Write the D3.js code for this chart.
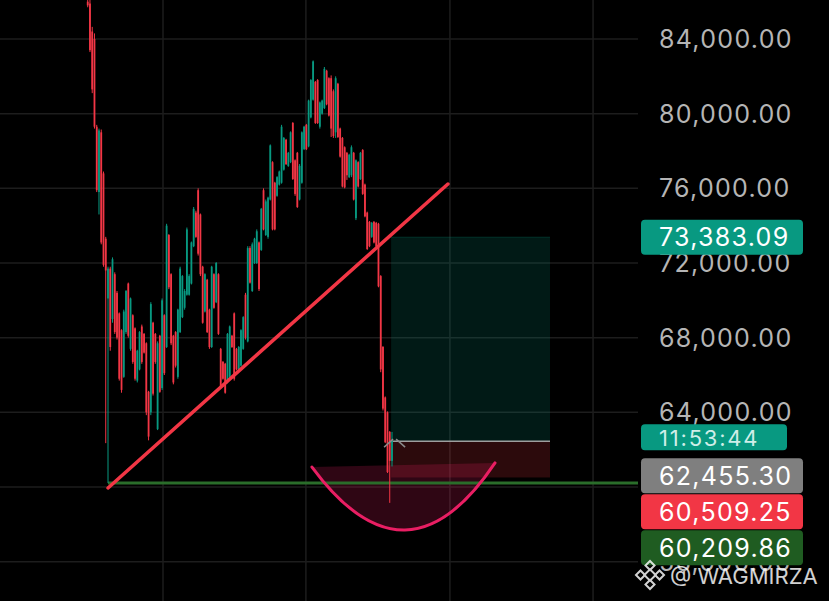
<!DOCTYPE html>
<html>
<head>
<meta charset="utf-8">
<script src="https://cdn.jsdelivr.net/npm/d3@7"></script>
<style>
  html, body { margin: 0; padding: 0; background: #000; overflow: hidden; }
  svg { display: block; }
</style>
</head>
<body>
<div id="chart"></div>
<script>
// --- Data ---
// candles as [open, high, low, close], one per bar, oldest first
const candles = [
  [86000, 86300, 85700, 85800], [85900, 86200, 83300, 83400], [84400, 84650, 81100, 81300],
  [84000, 84300, 79200, 79300], [79300, 79400, 75800, 75900], [75800, 79200, 74600, 79100],
  [79000, 79150, 73000, 73100], [76800, 76900, 71800, 71900], [73300, 73400, 62350, 71600],
  [70100, 71800, 60210, 71700], [71700, 71800, 67300, 67500], [69000, 72300, 68800, 72200],
  [71400, 71500, 68200, 68300], [70400, 70500, 67900, 68000], [69300, 69350, 65700, 65800],
  [68400, 68450, 65050, 65200], [65900, 69500, 65850, 69400], [68300, 70550, 68200, 70500],
  [70900, 70950, 68000, 68100], [67400, 70150, 67300, 70100], [69200, 69250, 66600, 66700],
  [68500, 68550, 65700, 65800], [65700, 67350, 65600, 67300], [66300, 68350, 66250, 68300],
  [68600, 68700, 66600, 66700], [68200, 68250, 67150, 67200], [67700, 67750, 63850, 64000],
  [65100, 65150, 62500, 62700], [64000, 69900, 63850, 69800], [68800, 68850, 64900, 65000],
  [68200, 68250, 66600, 66700], [63100, 67800, 63050, 67700], [68100, 68150, 65050, 65100],
  [65300, 70100, 65200, 70000], [69200, 69250, 66000, 66100], [67500, 74100, 67450, 74000],
  [73500, 73550, 70600, 70700], [71400, 71450, 67600, 67700], [68100, 68150, 65500, 65600],
  [68300, 68350, 66400, 66500], [65900, 69550, 65800, 69500], [68300, 71800, 68250, 71700],
  [69100, 71350, 69050, 71300], [69600, 70600, 69500, 70500], [70300, 73900, 70250, 73800],
  [70300, 71400, 70250, 71300], [70900, 73150, 70850, 73100], [72900, 75000, 72850, 74900],
  [74700, 74800, 73350, 73400], [75900, 76000, 72400, 72500], [74600, 74650, 71300, 71400],
  [71800, 71850, 68750, 68800], [69400, 71450, 69350, 71400], [71100, 71150, 68250, 68300],
  [69500, 69550, 67400, 67500], [67500, 71850, 67450, 71800], [71400, 71450, 69550, 69600],
  [69900, 72050, 69850, 72000], [71400, 71450, 68150, 68200], [67400, 67450, 65350, 65400],
  [66700, 66750, 65750, 65800], [66600, 66650, 65000, 65050], [65600, 68250, 65550, 68200],
  [65900, 68650, 65850, 68600], [68100, 68150, 67450, 67500], [69300, 69350, 65700, 65800],
  [67400, 67450, 66250, 66300], [66300, 67550, 66250, 67500], [66500, 68450, 66450, 68400],
  [67400, 69150, 67350, 69100], [70300, 70400, 67900, 68000], [67800, 72900, 67750, 72800],
  [72800, 72900, 70900, 70950], [70500, 73100, 70450, 73000], [72000, 73350, 71950, 73300],
  [72000, 73800, 71950, 73700], [73100, 73150, 70500, 70600], [72700, 74950, 72650, 74900],
  [75900, 76000, 73750, 73800], [73500, 75400, 73450, 75300], [73400, 75550, 73300, 75500],
  [75400, 78350, 75350, 78300], [77400, 77450, 73750, 73800], [76300, 76350, 73750, 73800],
  [75600, 76650, 75550, 76600], [76200, 76950, 76150, 76900], [76300, 79400, 76250, 79300],
  [77000, 78750, 76950, 78700], [78600, 78650, 77250, 77300], [77200, 77950, 77150, 77900],
  [77400, 79050, 77350, 79000], [79500, 79550, 76450, 76500], [77500, 77550, 75600, 75700],
  [77900, 77950, 74950, 75000], [75400, 77300, 75350, 77200], [76300, 79050, 76250, 79000],
  [78100, 79350, 78050, 79300], [79400, 79450, 78050, 78100], [78250, 80750, 78200, 80700],
  [79800, 81850, 79750, 81800], [80750, 82850, 80700, 82800], [81700, 81750, 79450, 79500],
  [81800, 81850, 79450, 79500], [79300, 80650, 79200, 80600], [80000, 80750, 79950, 80700],
  [80300, 82500, 80250, 82400], [82300, 82350, 80450, 80500], [81900, 81950, 79850, 79900],
  [81900, 82050, 78750, 79200], [81200, 81300, 78700, 78800], [79000, 82000, 78700, 81900],
  [81600, 81650, 78700, 78750], [79200, 79250, 77650, 77700], [78700, 78750, 76050, 76100],
  [78200, 78250, 76000, 76050], [77900, 77950, 76450, 76700], [76600, 77850, 76550, 77800],
  [76700, 78300, 76600, 78200], [77900, 77950, 75350, 75400], [74400, 77550, 74300, 77500],
  [77400, 77450, 76050, 76100], [76500, 77950, 76450, 77900], [78050, 78100, 75650, 75700],
  [76200, 76250, 74450, 74500], [74700, 74750, 72700, 72750], [74200, 74250, 72850, 72900],
  [73400, 74200, 73350, 74150], [74200, 74250, 73050, 73100], [74150, 74200, 72850, 72900],
  [74100, 74150, 70700, 70750], [71300, 71350, 66150, 66300], [67500, 67550, 64100, 64200],
  [64800, 64850, 62350, 62400], [64000, 64050, 60750, 60800], [62950, 63000, 59150, 61400],
  [61400, 62950, 61100, 62455.3]
];

const priceTicks = [84000, 80000, 76000, 72000, 68000, 64000, 60000, 56000];
const timeGridBars = [33.4, 96.8, 160.7, 224.2];   // bar positions of vertical grid lines

// long position tool
const entryPrice = 62455.30;
const targetPrice = 73383.09;
const stopPrice = 60509.25;
const positionBars = [134.6, 205.1];

// drawings
const supportPrice = 60209.86;
const supportFromBar = 9;
const trendLine = [[9, 59950], [159.8, 76230]];              // [bar, price]
const arcPoints = [[99.5, 61070], [141.4, 54215], [180.7, 61290]]; // start, control, end

// price scale tags (top to bottom)
const tagLabels = ["73,383.09", "11:53:44", "62,455.30", "60,509.25", "60,209.86"];
const tagPrices = [targetPrice, entryPrice, entryPrice, stopPrice, supportPrice];

const watermark = "@ WAGMIRZA";

// --- Layout ---
const W = 829, H = 601;
const plotRight = 638;
const UP = "#089981", DOWN = "#f23645";

const svg = d3.select("#chart").append("svg")
  .attr("width", W).attr("height", H)
  .style("background", "#000");

const x = d3.scaleLinear().domain([9, candles.length - 1]).range([108, 392]);
const y = d3.scaleLinear().domain([60000, 84000]).range([487, 39]);

svg.append("defs").append("clipPath").attr("id", "plot-clip")
  .append("rect").attr("x", 0).attr("y", 0).attr("width", plotRight).attr("height", H);

const plot = svg.append("g").attr("clip-path", "url(#plot-clip)");

// grid
plot.append("g").selectAll("line").data(priceTicks).join("line")
  .attr("x1", 0).attr("x2", plotRight)
  .attr("y1", d => y(d)).attr("y2", d => y(d))
  .attr("stroke", "#1d1d1d").attr("stroke-width", 1.5);

plot.append("g").selectAll("line").data(timeGridBars).join("line")
  .attr("x1", d => x(d)).attr("x2", d => x(d))
  .attr("y1", 0).attr("y2", H)
  .attr("stroke", "#1d1d1d").attr("stroke-width", 1.5);

// position boxes
const px0 = x(positionBars[0]), px1 = x(positionBars[1]);
plot.append("rect")
  .attr("x", px0).attr("width", px1 - px0)
  .attr("y", y(targetPrice)).attr("height", y(entryPrice) - y(targetPrice))
  .attr("fill", UP).attr("fill-opacity", 0.17);
plot.append("line")
  .attr("x1", px0).attr("x2", px1)
  .attr("y1", y(targetPrice)).attr("y2", y(targetPrice))
  .attr("stroke", UP).attr("stroke-opacity", 0.25);
plot.append("rect")
  .attr("x", px0).attr("width", px1 - px0)
  .attr("y", y(entryPrice)).attr("height", y(stopPrice) - y(entryPrice))
  .attr("fill", DOWN).attr("fill-opacity", 0.18);
plot.append("line")
  .attr("x1", px0).attr("x2", px1)
  .attr("y1", y(entryPrice)).attr("y2", y(entryPrice))
  .attr("stroke", "#9e9e9e").attr("stroke-width", 1.5);

// arc drawing
const arcPx = arcPoints.map(([b, p]) => [x(b), y(p)]);
const arcPath = d3.path();
arcPath.moveTo(arcPx[0][0], arcPx[0][1]);
arcPath.quadraticCurveTo(arcPx[1][0], arcPx[1][1], arcPx[2][0], arcPx[2][1]);
const arcD = arcPath.toString();
plot.append("path").attr("d", arcD + "Z")
  .attr("fill", "#e91e63").attr("fill-opacity", 0.2);

// support line
plot.append("line")
  .attr("x1", x(supportFromBar)).attr("x2", plotRight)
  .attr("y1", y(supportPrice)).attr("y2", y(supportPrice))
  .attr("stroke", "#2a6d2a").attr("stroke-width", 3);

// candles
const bw = 1.8;
const bars = plot.append("g").selectAll("g").data(candles).join("g")
  .attr("fill", d => d[3] >= d[0] ? UP : DOWN)
  .attr("stroke", d => d[3] >= d[0] ? UP : DOWN);
bars.append("line")
  .attr("x1", (d, i) => x(i)).attr("x2", (d, i) => x(i))
  .attr("y1", d => y(d[1])).attr("y2", d => y(d[2]))
  .attr("stroke-width", 1);
bars.append("rect")
  .attr("stroke", "none")
  .attr("x", (d, i) => x(i) - bw / 2).attr("width", bw)
  .attr("y", d => y(Math.max(d[0], d[3])))
  .attr("height", d => Math.max(1, Math.abs(y(d[0]) - y(d[3]))));

// arc outline and trend line on top
plot.append("path").attr("d", arcD)
  .attr("fill", "none").attr("stroke", "#e91e63").attr("stroke-width", 3)
  .attr("stroke-linecap", "round");

plot.append("line")
  .attr("x1", x(trendLine[0][0])).attr("y1", y(trendLine[0][1]))
  .attr("x2", x(trendLine[1][0])).attr("y2", y(trendLine[1][1]))
  .attr("stroke", DOWN).attr("stroke-width", 3.5).attr("stroke-linecap", "round");

// small grey cursor chevron at the entry anchor
const cx = x(positionBars[0]) + 3, cy = y(entryPrice) - 3;
plot.append("path")
  .attr("d", `M${cx - 10},${cy + 9}L${cx - 1},${cy + 1}M${cx + 2},${cy + 1}L${cx + 11},${cy + 9}`)
  .attr("stroke", "#8a8a8a").attr("stroke-width", 1.5).attr("fill", "none");

// --- Price scale ---
const axisFont = "Inter, 'Open Sans', sans-serif";
const fontSize = 25, spacing = 1.3;

// stack the tags so they don't overlap
const tagFill = [UP, UP, "#7f7f7f", DOWN, "#1f5c21"];
const tagText = ["#fff", "#cfeee8", "#fff", "#fff", "#fff"];
const tags = [];
let prevBottom = -Infinity;
tagLabels.forEach((label, i) => {
  const timer = i === 1;
  const h = timer ? 26 : 35;
  let top = timer ? y(tagPrices[i]) - 17 : y(tagPrices[i]) - h / 2;
  const gap = i === 2 ? 8 : 1;
  if (top < prevBottom + gap) top = prevBottom + gap;
  prevBottom = top + h;
  tags.push({ label, top, h, timer, i });
});

// tick labels fully hidden behind tags are not drawn
const inTag = v => tags.some(t => v >= t.top - 1 && v <= t.top + t.h + 1);
const visibleTicks = priceTicks.filter(p => !(inTag(y(p) - 9) && inTag(y(p) + 9)));

svg.append("g").selectAll("text").data(visibleTicks).join("text")
  .attr("x", 659).attr("y", d => y(d))
  .attr("dy", "0.36em")
  .attr("font-family", axisFont).attr("font-size", fontSize)
  .attr("letter-spacing", spacing)
  .attr("fill", "#b5b5b5")
  .text(d => d3.format(",.2f")(d));

tags.forEach(t => {
  const g = svg.append("g");
  g.append("rect")
    .attr("x", 641).attr("y", t.top)
    .attr("width", t.timer ? 146 : 162).attr("height", t.h)
    .attr("rx", 4).attr("fill", tagFill[t.i]);
  g.append("text")
    .attr("x", 659).attr("y", t.top + t.h / 2 + (t.timer ? 1 : 0))
    .attr("dy", "0.36em")
    .attr("font-family", axisFont).attr("font-size", t.timer ? 22 : fontSize)
    .attr("letter-spacing", t.timer ? 1.8 : spacing)
    .attr("fill", tagText[t.i])
    .text(t.label);
});

// --- Watermark ---
const wm = svg.append("g").attr("opacity", 0.82);
const lx = 650, ly = 575;
[[0, 0, 4], [-9.5, 0, 3.2], [9.5, 0, 3.2], [0, -9.5, 3.2], [0, 9.5, 3.2]].forEach(([dx, dy, s]) => {
  wm.append("rect")
    .attr("x", -s).attr("y", -s).attr("width", 2 * s).attr("height", 2 * s)
    .attr("transform", `translate(${lx + dx},${ly + dy}) rotate(45)`)
    .attr("fill", "none").attr("stroke", "#fff").attr("stroke-width", 2);
});
wm.append("text")
  .attr("x", 670).attr("y", 584)
  .attr("font-family", axisFont).attr("font-size", 22)
  .attr("fill", "#fff")
  .text(watermark);
</script>
</body>
</html>
